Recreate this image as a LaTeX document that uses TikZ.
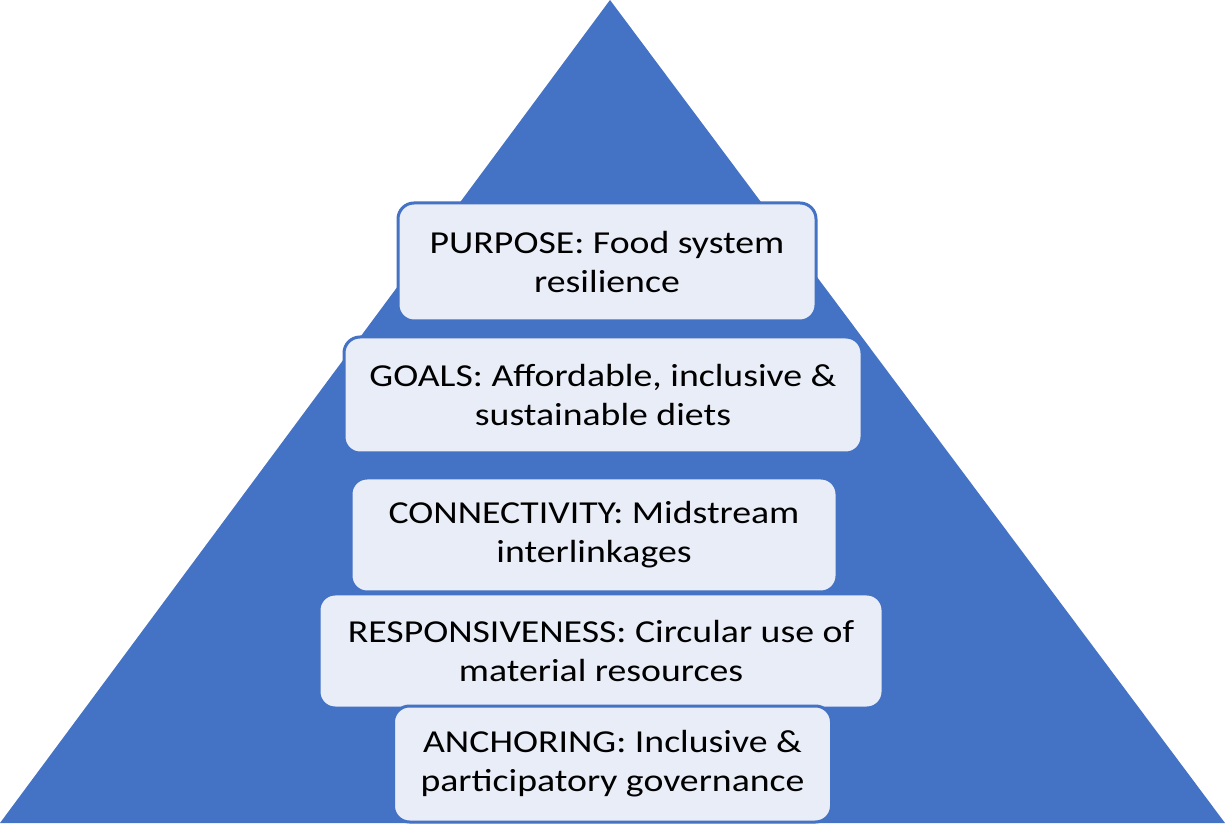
\documentclass[tikz,border=0pt]{standalone}
\usepackage{fontspec}
\setmainfont{Carlito}[FakeStretch=1.18]
\definecolor{pyrblue}{HTML}{4472C4}
\definecolor{tierfill}{HTML}{E9EDF7}
\begin{document}
\begin{tikzpicture}[x=0.5pt,y=-0.5pt,
      tier/.style={draw=pyrblue,fill=tierfill,line width=1.5pt,rounded corners=8pt,
        align=center,font=\fontsize{16}{19.5}\selectfont,inner sep=0pt}]
  \useasboundingbox (0,0) rectangle (1225,838);

  \fill[pyrblue] (0,823) coordinate (baseL) -- (610,0) coordinate (apex)
    -- (1225,823) coordinate (baseR) -- cycle;

  \node[tier,minimum width=209pt,minimum height=59pt] (purpose) at (607,262)
    {PURPOSE: Food system\\resilience};
  \node[tier,minimum width=259pt,minimum height=58pt] (goals) at (603,395)
    {GOALS: Affordable, inclusive \&\\sustainable diets};
  \node[tier,minimum width=243pt,minimum height=57pt] (connectivity) at (594,535)
    {CONNECTIVITY: Midstream\\interlinkages};
  \node[tier,minimum width=282pt,minimum height=57pt] (responsiveness) at (601,651)
    {RESPONSIVENESS: Circular use of\\material resources};
  \node[tier,minimum width=219pt,minimum height=58pt] (anchoring) at (612.5,764)
    {ANCHORING: Inclusive \&\\participatory governance};

\end{tikzpicture}
\end{document}
